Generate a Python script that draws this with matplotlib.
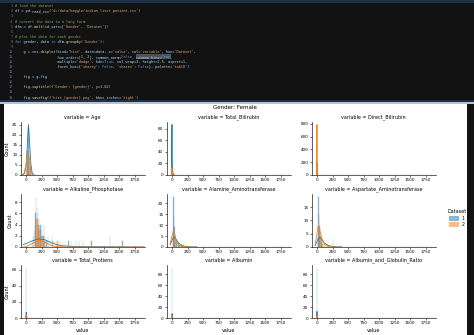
import re
import numpy as np
import matplotlib.pyplot as plt
from matplotlib.patches import Rectangle, Patch
from matplotlib.ticker import MultipleLocator

W, H = 474, 335

# code shown in the editor strip at the top
code_lines = [
    "# load the dataset",
    "df = pd.read_csv('d:/data/kaggle/indian_liver_patient.csv')",
    "",
    "# convert the data to a long form",
    "dfm = df.melt(id_vars=['Gender', 'Dataset'])",
    "",
    "# plot the data for each gender",
    "for gender, data in dfm.groupby('Gender'):",
    "",
    "    g = sns.displot(kind='hist', data=data, x='value', col='variable', hue='Dataset',",
    "                    hue_order=[1, 2], common_norm=False, common_bins=True,",
    "                    multiple='dodge', kde=True, col_wrap=3, height=2.5, aspect=1,",
    "                    facet_kws={'sharey': False, 'sharex': False}, palette='tab10')",
    "",
    "    fig = g.fig",
    "",
    "    fig.suptitle(f'Gender: {gender}', y=1.02)",
    "",
    "    fig.savefig(f'hist_{gender}.png', bbox_inches='tight')",
]

variables = ['Age', 'Total_Bilirubin', 'Direct_Bilirubin',
             'Alkaline_Phosphotase', 'Alamine_Aminotransferase', 'Aspartate_Aminotransferase',
             'Total_Protiens', 'Albumin', 'Albumin_and_Globulin_Ratio']
tick_steps = [5, 20, 200, 2, 5, 5, 20, 20, 20]
bin_edges = np.arange(0, 1900, 10)
bin_width = 10

# Age
age_x1 = [0, 10, 20, 30, 40, 50, 60, 70, 80]
age_n1 = [2, 5, 12, 20, 24, 15, 8, 4, 1]
age_x2 = [0, 10, 20, 30, 40, 50, 60, 70]
age_n2 = [3, 7, 9, 12, 8, 6, 4, 1]
age_kx = [-60, -30, 0, 20, 40, 60, 80, 100, 130]
age_k1 = [0, 0.5, 4, 14, 25, 15, 5, 1, 0]
age_k2 = [0, 1, 5, 10, 11, 7, 2, 0.3, 0]

# Total_Bilirubin
tbil_x1 = [0, 10, 20]
tbil_n1 = [60, 6, 2]
tbil_x2 = [0, 10]
tbil_n2 = [12, 3]
tbil_kx = [-10, 0, 3, 8, 20, 40]
tbil_k1 = [0, 87, 40, 8, 1, 0]
tbil_k2 = [0, 12, 6, 2, 0, 0]

# Direct_Bilirubin
dbil_x1 = [0, 10]
dbil_n1 = [45, 3]
dbil_x2 = [0]
dbil_n2 = [50]
dbil_kx = [-4, 0, 1, 2, 4, 10]
dbil_k1 = [0, 190, 120, 40, 5, 0]
dbil_k2 = [0, 790, 300, 20, 0, 0]

# Alkaline_Phosphotase
alk_x1 = [90, 110, 130, 140, 150, 160, 170, 180, 190, 200, 210, 220, 230, 240, 250, 260,
          280, 290, 300, 330, 350, 380, 420, 480, 530, 560, 610, 680, 720, 800, 850, 920,
          1050, 1350, 1550]
alk_n1 = [1, 2, 3, 4, 6, 9, 7, 5, 6, 4, 5, 3, 4, 3, 2, 3,
          2, 4, 2, 1, 2, 1, 2, 1, 1, 1, 1, 1, 1, 1, 1, 1,
          1, 2, 1]
alk_x2 = [100, 120, 140, 150, 160, 170, 180, 190, 200, 210, 220, 240, 260, 290, 310, 350, 420, 500]
alk_n2 = [1, 2, 3, 4, 5, 4, 5, 3, 4, 3, 2, 2, 2, 1, 1, 1, 1, 1]
alk_kx = [-50, 0, 100, 200, 300, 400, 500, 600, 800, 1000, 1200, 1400, 1600, 1900]
alk_k1 = [0.4, 0.6, 1.1, 1.45, 1.3, 0.8, 0.4, 0.2, 0.08, 0.05, 0.05, 0.04, 0.02, 0]
alk_k2 = [0, 0.05, 0.6, 1.2, 0.9, 0.3, 0.05, 0, 0, 0, 0, 0, 0, 0]

# Alamine_Aminotransferase
alt_x1 = [10, 20, 30, 40, 50, 60, 70, 80, 100, 120, 150, 180, 240]
alt_n1 = [8, 23, 14, 9, 6, 4, 3, 2, 2, 1, 1, 1, 1]
alt_x2 = [10, 20, 30, 40, 50, 70]
alt_n2 = [6, 9, 10, 6, 3, 1]
alt_kx = [-30, 0, 20, 40, 60, 100, 150, 200, 250, 300, 400]
alt_k1 = [1, 3, 4.2, 4.6, 3.8, 2, 0.9, 0.4, 0.2, 0.05, 0]
alt_k2 = [1.5, 5, 7, 6, 3.5, 1.2, 0.3, 0.1, 0, 0, 0]

# Aspartate_Aminotransferase
ast_x1 = [10, 20, 30, 40, 50, 60, 70, 80, 90, 110, 130, 160, 250]
ast_n1 = [5, 19, 12, 8, 6, 4, 3, 2, 2, 1, 1, 1, 3]
ast_x2 = [10, 20, 30, 40, 50, 60, 80]
ast_n2 = [3, 8, 10, 7, 4, 2, 1]
ast_kx = [-30, 0, 20, 50, 80, 120, 180, 250, 320, 400]
ast_k1 = [0.5, 2, 3.2, 3.6, 2.8, 1.5, 0.6, 0.2, 0.05, 0]
ast_k2 = [1, 5, 8, 6, 3, 1, 0.2, 0, 0, 0]

# Total_Protiens
tp_x1 = [0]
tp_n1 = [63]
tp_x2 = [0]
tp_n2 = [6]
tp_kx = [-5, 0, 5, 10, 15]
tp_k1 = [0, 4, 7, 3, 0]
tp_k2 = [0, 2, 4, 1, 0]

# Albumin
alb_x1 = [0]
alb_n1 = [92]
alb_x2 = [0]
alb_n2 = [4]
alb_kx = [-5, 0, 3, 6, 10]
alb_k1 = [0, 5, 8, 3, 0]
alb_k2 = [0, 2, 3, 1, 0]

# Albumin_and_Globulin_Ratio
agr_x1 = [0]
agr_n1 = [92]
agr_x2 = [0]
agr_n2 = [5]
agr_kx = [-3, 0, 1, 2, 5]
agr_k1 = [0, 12, 8, 2, 0]
agr_k2 = [0, 4, 3, 1, 0]

facets = [
    (age_x1, age_n1, age_x2, age_n2, age_kx, age_k1, age_k2),
    (tbil_x1, tbil_n1, tbil_x2, tbil_n2, tbil_kx, tbil_k1, tbil_k2),
    (dbil_x1, dbil_n1, dbil_x2, dbil_n2, dbil_kx, dbil_k1, dbil_k2),
    (alk_x1, alk_n1, alk_x2, alk_n2, alk_kx, alk_k1, alk_k2),
    (alt_x1, alt_n1, alt_x2, alt_n2, alt_kx, alt_k1, alt_k2),
    (ast_x1, ast_n1, ast_x2, ast_n2, ast_kx, ast_k1, ast_k2),
    (tp_x1, tp_n1, tp_x2, tp_n2, tp_kx, tp_k1, tp_k2),
    (alb_x1, alb_n1, alb_x2, alb_n2, alb_kx, alb_k1, alb_k2),
    (agr_x1, agr_n1, agr_x2, agr_n2, agr_kx, agr_k1, agr_k2),
]

blue = '#1f77b4'
orange = '#ff7f0e'


def fx(px):
    return px / W


def fy(px):
    return 1 - px / H


def full_counts(xs, ns):
    counts = np.zeros(len(bin_edges))
    counts[np.searchsorted(bin_edges, xs)] = ns
    return counts


def back_rect(x, y, w, h, color):
    fig.add_artist(Rectangle((x, y), w, h, transform=fig.transFigure, color=color, lw=0, zorder=-10))


fig = plt.figure(figsize=(W / 100, H / 100), dpi=100, facecolor='#121212')
renderer = fig.canvas.get_renderer()

# editor chrome
back_rect(0, fy(3), 1, 3 / H, '#1d3247')
back_rect(0, fy(102.5), 1, 2.5 / H, '#1d3247')
back_rect(0, fy(103.5), 1, 1 / H, '#b9c0c8')
back_rect(fx(4), 0, fx(467) - fx(4), fy(103.5), 'white')

# code text: one full-length layer per colour, so columns always line up
fs = 2.6
mono = 'DejaVu Sans Mono'


def text_width(s):
    t = fig.text(0, 0, s + 'x', fontsize=fs, family=mono)
    t2 = fig.text(0, 0, 'x', fontsize=fs, family=mono)
    w = t.get_window_extent(renderer).width - t2.get_window_extent(renderer).width
    t.remove()
    t2.remove()
    return w


token_re = re.compile(r"(#.*$)|(f?'[^']*')|(\b(?:for|in|True|False)\b)|(\b\d+(?:\.\d+)?\b)|([A-Za-z_]\w*(?=\())")
layer_colors = ['#a9d4f0', '#7f9f5f', '#d7a06e', '#569cd6', '#b5cea8', '#dcdcaa']
for i, line in enumerate(code_lines):
    yc = 6 + i * 5.07
    y = fy(yc + 1.3)
    fig.text(fx(12.5), y, str(i + 1), ha='right', va='baseline', fontsize=fs,
             family=mono, color='#6b7a99')
    if 'common_bins=True' in line:
        col = line.index('common_bins=True')
        x0 = 15 + text_width(line[:col])
        back_rect(fx(x0 - 0.5), fy(yc + 2.4), (text_width('common_bins=True') + 1) / W, 4.8 / H, '#4e5359')
    kind = [0] * len(line)
    for m in token_re.finditer(line):
        for k in range(m.start(), m.end()):
            kind[k] = m.lastindex
    for layer, c in enumerate(layer_colors):
        masked = ''.join(ch if kind[k] == layer else ' ' for k, ch in enumerate(line))
        if masked.strip():
            fig.text(fx(15), y, masked, ha='left', va='baseline',
                     fontsize=fs, family=mono, color=c)

fig.text(fx(235), fy(107), 'Gender: Female', ha='center', va='center', fontsize=4)

lefts = [20.7, 166.7, 311.7]
bottoms = [175, 247, 318]
for i, name in enumerate(variables):
    r, c = divmod(i, 3)
    x1, n1, x2, n2, kx, k1, k2 = facets[i]
    ax = fig.add_axes([fx(lefts[c]), fy(bottoms[r]), 124 / W, 53 / H])
    ax.patch.set_alpha(0)
    ax.bar(bin_edges, full_counts(x1, n1), width=bin_width / 2, align='edge',
           color=blue, alpha=0.45, edgecolor=blue, linewidth=0.3)
    ax.bar(bin_edges + bin_width / 2, full_counts(x2, n2), width=bin_width / 2, align='edge',
           color=orange, alpha=0.45, edgecolor=orange, linewidth=0.3)
    ax.plot(kx, k1, color=blue, lw=0.6)
    ax.plot(kx, k2, color=orange, lw=0.6)
    ax.set_xlim(-85, 1910)
    ax.set_ylim(bottom=0)
    ax.xaxis.set_major_locator(MultipleLocator(250))
    ax.yaxis.set_major_locator(MultipleLocator(tick_steps[i]))
    ax.set_title(f'variable = {name}', fontsize=3.5, pad=2.5)
    for s in ['top', 'right']:
        ax.spines[s].set_visible(False)
    for s in ['left', 'bottom']:
        ax.spines[s].set_linewidth(0.5)
        ax.spines[s].set_color('#222222')
    ax.tick_params(labelsize=3, length=1.5, width=0.4, pad=1)
    if c == 0:
        ax.set_ylabel('Count', fontsize=3.5, labelpad=1.5)
    if r == 2:
        ax.set_xlabel('value', fontsize=3.5, labelpad=1.5)

handles = [Patch(facecolor=blue, edgecolor=blue, alpha=0.5, lw=0.6),
           Patch(facecolor=orange, edgecolor=orange, alpha=0.5, lw=0.6)]
fig.legend(handles, ['1', '2'], title='Dataset', loc='center left',
           bbox_to_anchor=(fx(443), fy(218)), frameon=False, fontsize=3.3,
           title_fontsize=3.5, handlelength=1.8, handleheight=0.9, labelspacing=0.3)

fig.savefig('out.png', dpi=100, facecolor=fig.get_facecolor())
